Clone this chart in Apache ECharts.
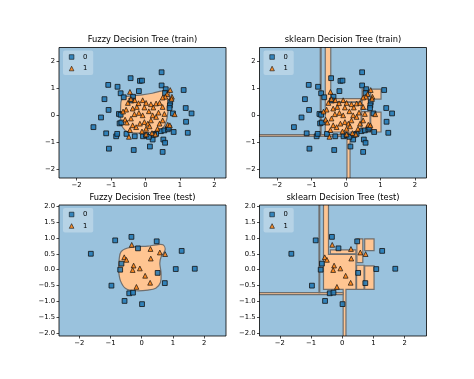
<!DOCTYPE html>
<html><head><meta charset="utf-8">
<script src="https://cdn.jsdelivr.net/npm/echarts@6/dist/echarts.min.js"></script>
<style>html,body{margin:0;padding:0;background:#fff}#c{width:474px;height:379px}</style>
</head><body><div id="c"></div>
<script>
// ---------- data ----------
const titles = ['Fuzzy Decision Tree (train)', 'sklearn Decision Tree (train)', 'Fuzzy Decision Tree (test)', 'sklearn Decision Tree (test)'];
const legendNames = ['0', '1'];
const trainTicksX = [-2, -1, 0, 1, 2];
const trainTicksY = [-2, -1, 0, 1, 2];
const testTicksX = [-2, -1, 0, 1, 2];
const testTicksY = [-2.0, -1.5, -1.0, -0.5, 0.0, 0.5, 1.0, 1.5, 2.0];
const trainRangeX = [-2.51, 2.34];
const trainRangeY = [-2.33, 2.52];
const testRangeX = [-2.65, 2.70];
const testRangeY = [-2.08, 2.03];

const trainClass0 = [[0.47,1.60],[-0.43,1.38],[-1.08,1.13],[-0.81,1.06],[-0.16,1.28],[-0.10,1.29],[0.47,1.11],[0.59,0.97],[1.11,0.94],[-0.72,0.82],[-0.19,0.90],[-0.63,0.67],[-0.36,0.69],[-1.19,0.60],[-1.07,0.20],[-1.29,-0.08],[-1.51,-0.44],[-0.77,0.05],[-0.72,0.02],[-0.75,-0.30],[-0.70,-0.27],[-1.14,-0.67],[-0.85,-0.78],[-0.82,-0.69],[-0.55,-0.69],[-0.31,-0.78],[-0.07,-0.78],[-1.06,-1.24],[-0.34,-1.29],[0.13,-1.16],[0.21,-0.90],[0.52,-0.90],[0.57,-1.02],[0.50,-1.36],[0.31,-0.69],[0.45,-0.59],[0.55,-0.56],[0.65,-0.52],[0.82,-0.62],[1.23,-0.65],[1.18,-0.24],[1.17,0.27],[1.34,0.07],[0.80,0.07],[0.72,0.49],[0.71,0.37],[0.70,0.27],[0.68,-0.46],[-0.41,0.55],[0.57,0.83],[0.02,-0.74],[0.10,-0.80],[0.25,-0.72]];
const trainClass1 = [[-0.45,0.87],[0.72,0.94],[0.63,0.79],[0.58,0.69],[0.50,0.66],[0.77,0.69],[0.76,0.61],[-0.51,0.46],[-0.42,0.60],[-0.31,0.56],[-0.08,0.56],[0.02,0.46],[0.16,0.41],[0.31,0.44],[0.41,0.46],[0.23,0.29],[-0.37,0.25],[-0.25,0.31],[-0.03,0.29],[0.50,0.31],[-0.56,0.21],[-0.65,0.14],[-0.59,-0.16],[-0.54,-0.27],[-0.42,-0.12],[-0.37,-0.37],[-0.27,-0.44],[-0.32,0.04],[-0.19,0.09],[-0.08,0.00],[-0.03,-0.25],[0.07,-0.31],[0.16,-0.19],[0.21,0.00],[0.31,-0.06],[-0.16,-0.31],[0.02,-0.50],[0.12,-0.41],[0.41,-0.31],[0.50,-0.19],[0.65,-0.35],[0.02,-0.71],[0.19,-0.66],[0.29,-0.71],[-0.48,-0.80],[0.71,-0.37],[0.85,0.04],[0.38,0.10],[-0.20,0.45],[0.10,0.15],[-0.45,-0.55],[0.55,0.05],[0.35,-0.50],[-0.10,-0.60]];
const testClass0 = [[-0.85,0.92],[-0.33,1.03],[0.48,0.89],[-1.63,0.50],[1.28,0.59],[-0.12,0.67],[-0.65,0.19],[-0.69,0.0],[1.09,0.02],[1.70,0.03],[0.51,-0.10],[0.74,-0.42],[-0.97,-0.50],[-0.40,-0.74],[-0.28,-0.72],[-0.55,-0.98],[0.01,-1.08]];
const testClass1 = [[-0.32,0.78],[0.28,0.65],[0.58,0.54],[0.75,0.49],[-0.56,0.39],[-0.49,0.31],[0.29,0.35],[-0.26,0.13],[-0.06,0.04],[-0.29,-0.01],[0.11,-0.19],[0.27,-0.41],[-0.17,-0.54]];

const fuzzyTrainBoundary = [[-0.70,0.55],[-0.60,0.68],[-0.40,0.72],[-0.10,0.76],[0.20,0.82],[0.45,0.90],[0.62,0.95],[0.70,0.85],[0.68,0.50],[0.66,0.20],[0.62,-0.15],[0.55,-0.40],[0.42,-0.55],[0.15,-0.63],[-0.20,-0.66],[-0.50,-0.62],[-0.66,-0.45],[-0.72,-0.10],[-0.72,0.30]];
const fuzzyTestBoundary = [[-0.66,0.57],[-0.45,0.68],[-0.18,0.72],[0.20,0.74],[0.46,0.78],[0.68,0.78],[0.75,0.62],[0.62,0.40],[0.58,0.20],[0.62,-0.10],[0.60,-0.40],[0.45,-0.58],[0.20,-0.64],[-0.18,-0.66],[-0.50,-0.60],[-0.68,-0.35],[-0.74,0.0],[-0.72,0.35]];

// sklearn tree regions predicted as class 1 (polygons)
const sklearnRegions = [
  [[-0.60,3],[-0.44,3],[-0.44,0.48],[0.44,0.48],[0.44,-0.62],[0.12,-0.62],[0.12,-3],[0.03,-3],[0.03,-0.62],[-0.60,-0.62]],
  [[-0.38,0.50],[0.44,0.50],[0.44,0.62],[-0.38,0.62]],
  [[0.47,0.22],[0.66,0.22],[0.66,0.97],[0.47,0.97]],
  [[0.72,0.60],[1.02,0.60],[1.02,0.97],[0.72,0.97]],
  [[0.46,-0.62],[0.70,-0.62],[0.70,0.14],[0.46,0.14]],
  [[0.72,-0.62],[1.02,-0.62],[1.02,0.12],[0.72,0.12]],
  [[-3,-0.78],[0.03,-0.78],[0.03,-0.72],[-3,-0.72]],
  [[-0.745,-0.72],[-0.72,-0.72],[-0.72,3],[-0.745,3]]
];

// ---------- layout ----------
const grids = [
  {left: 59, top: 47.5, width: 167, height: 130.5},
  {left: 259.5, top: 47.5, width: 167, height: 130.5},
  {left: 59, top: 205, width: 167, height: 131},
  {left: 259.5, top: 205, width: 167, height: 131}
];
const BLUE_BG = '#9AC2DD', ORANGE = '#FFC592', EDGE = '#6f6f6f';
const FONT = 'DejaVu Sans';
const minus = v => String(v).replace('-', '\u2212');

const option = {animation: false, title: [], grid: [], xAxis: [], yAxis: [], legend: [], series: []};

grids.forEach((g, i) => {
  const isTest = i >= 2;
  const rx = isTest ? testRangeX : trainRangeX;
  const ry = isTest ? testRangeY : trainRangeY;
  const tx = isTest ? testTicksX : trainTicksX;
  const ty = isTest ? testTicksY : trainTicksY;
  option.grid.push({left: g.left, top: g.top, width: g.width, height: g.height, show: true, backgroundColor: BLUE_BG, borderWidth: 0});
  option.title.push({text: titles[i], left: g.left + g.width / 2, top: g.top - 11.5, textAlign: 'center', padding: 0,
    textStyle: {fontFamily: FONT, fontSize: 8.3, fontWeight: 'normal', color: '#000'}});
  const tick = {show: true, length: 2.5, lineStyle: {color: '#000', width: 0.7}};
  option.xAxis.push({type: 'value', gridIndex: i, min: rx[0], max: rx[1], position: 'bottom',
    axisLine: {show: false, onZero: false}, splitLine: {show: false},
    axisTick: Object.assign({}, tick, {customValues: tx}),
    axisLabel: {customValues: tx, fontFamily: FONT, fontSize: 6.8, color: '#000', margin: 4, formatter: v => minus(v)}});
  option.yAxis.push({type: 'value', gridIndex: i, min: ry[0], max: ry[1], position: 'left',
    axisLine: {show: false, onZero: false}, splitLine: {show: false},
    axisTick: Object.assign({}, tick, {customValues: ty}),
    axisLabel: {customValues: ty, fontFamily: FONT, fontSize: 6.8, color: '#000', margin: 4,
      formatter: v => minus(isTest ? Number(v).toFixed(1) : v)}});
  option.legend.push({data: legendNames, left: g.left + 4, top: g.top + 3, orient: 'vertical', selectedMode: false,
    itemWidth: 4.6, itemHeight: 4.6, itemGap: 4.5, padding: [3, 6, 3, 6], backgroundColor: 'rgba(255,255,255,0.28)', borderRadius: 2,
    itemStyle: {borderWidth: 0.6},
    textStyle: {fontFamily: FONT, fontSize: 6.8, color: '#000', padding: [0, 0, 0, 4]}});

  // decision regions
  const regions = (i === 0) ? [fuzzyTrainBoundary] : (i === 2) ? [fuzzyTestBoundary] : sklearnRegions;
  const smooth = (i % 2 === 0) ? 0.35 : 0;
  option.series.push({
    type: 'custom', xAxisIndex: i, yAxisIndex: i, clip: true, z: 1, silent: true,
    data: regions.map((r, k) => [k]),
    renderItem: (params, api) => {
      const poly = regions[api.value(0)];
      return {type: 'polygon', shape: {points: poly.map(p => api.coord(p)), smooth: smooth},
        style: {fill: ORANGE, stroke: EDGE, lineWidth: 1.2}};
    }
  });
  // scatter
  const c0 = isTest ? testClass0 : trainClass0;
  const c1 = isTest ? testClass1 : trainClass1;
  option.series.push({name: legendNames[0], type: 'scatter', xAxisIndex: i, yAxisIndex: i, z: 3, symbol: 'rect', symbolSize: 4.8,
    data: c0, itemStyle: {color: 'rgba(31,119,180,0.85)', borderColor: '#111', borderWidth: 0.8, opacity: 1}});
  option.series.push({name: legendNames[1], type: 'scatter', xAxisIndex: i, yAxisIndex: i, z: 3, symbol: 'triangle', symbolSize: 4.8,
    data: c1, itemStyle: {color: 'rgba(255,127,14,0.85)', borderColor: '#111', borderWidth: 0.7, opacity: 1}});
  // frame
  option.series.push({
    type: 'custom', xAxisIndex: i, yAxisIndex: i, clip: false, z: 5, silent: true, data: [[0]],
    renderItem: (params) => {
      const cs = params.coordSys;
      return {type: 'rect', shape: {x: cs.x, y: cs.y, width: cs.width, height: cs.height},
        style: {fill: 'none', stroke: '#000', lineWidth: 0.8}};
    }
  });
});

const chart = echarts.init(document.getElementById('c'), null, {renderer: 'canvas'});
chart.setOption(option);
</script></body></html>
